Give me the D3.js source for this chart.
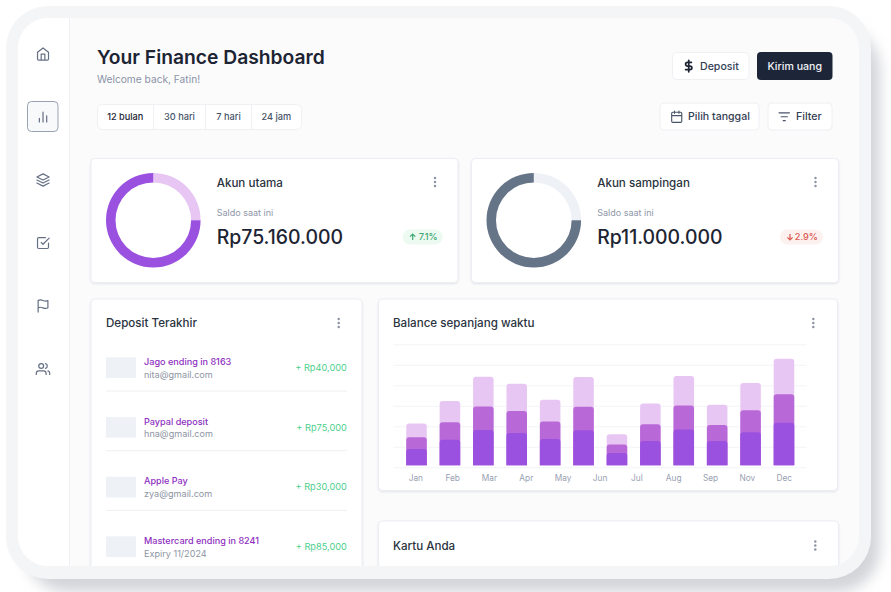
<!DOCTYPE html>
<html><head><meta charset="utf-8">
<style>html,body{margin:0;padding:0;background:#fff;overflow:hidden}svg{display:block}text{font-family:Inter,"Noto Sans",sans-serif}</style>
<script src="https://cdn.jsdelivr.net/npm/d3@7/dist/d3.min.js"></script>
</head><body><script>
// ---- data ----
const barMonths = ["Jan","Feb","Mar","Apr","May","Jun","Jul","Aug","Sep","Oct","Nov","Dec"];
const tickLabels = ["Jan","Feb","Mar","Apr","May","Jun","Jul","Aug","Sep","Nov","Dec"];
const seriesDark = [8.0,12.5,17.2,15.8,12.8,17.1,6.0,11.9,17.4,11.9,16.1,20.8];
const seriesMid = [5.7,8.5,11.5,10.7,8.5,11.5,4.2,8.1,11.7,7.8,10.7,13.8];
const seriesLight = [6.7,10.4,14.5,13.3,10.7,14.5,5.0,10.1,14.5,9.8,13.3,17.4];
const gridValues = [0,10,20,30,40,50,60];
const donutMain = [25,75];
const donutSide = [25,75];
const depositTitles = ["Jago ending in 8163","Paypal deposit","Apple Pay","Mastercard ending in 8241"];
const depositSubs = ["nita@gmail.com","hna@gmail.com","zya@gmail.com","Expiry 11/2024"];
const depositAmounts = ["+ Rp40,000","+ Rp75,000","+ Rp30,000","+ Rp85,000"];
const tabLabels = ["12 bulan","30 hari","7 hari","24 jam"];

// ---- helpers ----
const W=891,H=592;
const svg=d3.select("body").append("svg").attr("width",W).attr("height",H);
const defs=svg.append("defs");
const f=defs.append("filter").attr("id","sh").attr("x","-10%").attr("y","-10%").attr("width","125%").attr("height","125%");
f.append("feGaussianBlur").attr("stdDeviation",7);
const f2=defs.append("filter").attr("id","cs").attr("x","-5%").attr("y","-5%").attr("width","110%").attr("height","115%");
f2.append("feDropShadow").attr("dx",0).attr("dy",1).attr("stdDeviation",1).attr("flood-color","#98a2b3").attr("flood-opacity",.28);
defs.append("clipPath").attr("id","inner").append("rect").attr("x",18).attr("y",18).attr("width",841).attr("height",548).attr("rx",30);

const rect=(p,x,y,w,h,o={})=>p.append("rect").attr("x",x).attr("y",y).attr("width",w).attr("height",h).attr("rx",o.rx||0)
  .attr("fill",o.fill||"none").attr("stroke",o.stroke||"none").attr("stroke-width",o.sw||1).attr("filter",o.filter||null);
const text=(p,s,x,y,size,weight,fill,anchor)=>p.append("text").attr("x",x).attr("y",y).attr("font-size",size).attr("font-weight",weight)
  .attr("fill",fill).attr("text-anchor",anchor||"start").text(s);
const icon=(p,x,y,s,d,col,sw)=>p.append("g").attr("transform",`translate(${x},${y}) scale(${s})`).append("path").attr("d",d)
  .attr("fill","none").attr("stroke",col).attr("stroke-width",sw||2).attr("stroke-linecap","round").attr("stroke-linejoin","round");
const kebab=(p,x,y)=>[-4,0,4].forEach(d=>p.append("circle").attr("cx",x).attr("cy",y+d).attr("r",1.25).attr("fill","#8d95a5"));
const card=(p,x,y,w,h)=>rect(p,x,y,w,h,{rx:4,fill:"#fff",stroke:"#eceef3",filter:"url(#cs)"});
const btn=(p,x,y,w,h,fill,stroke)=>rect(p,x+.5,y+.5,w-1,h-1,{rx:4,fill:fill||"#fff",stroke:stroke||"#eef0f4"});

// ---- device frame ----
rect(svg,24,26,856,566,{rx:44,fill:"#d2d4d9",filter:"url(#sh)"});
rect(svg,6,6,865,573,{rx:42,fill:"#f4f5f6"});
rect(svg,18,18,841,548,{rx:30,fill:"#fbfbfc"});
const app=svg.append("g").attr("clip-path","url(#inner)");

// sidebar
rect(app,18,18,51.5,548,{fill:"#fff"});
app.append("line").attr("x1",69.5).attr("x2",69.5).attr("y1",18).attr("y2",566).attr("stroke","#eef0f4");
rect(app,27.5,101.5,30.5,30,{rx:4,fill:"#f8f9fb",stroke:"#98a2b3"});
const iconCol="#667085";
const sb=[
 ["M3 9l9-7 9 7v11a2 2 0 0 1-2 2H5a2 2 0 0 1-2-2z M9 22V12h6v10",54],
 ["M18 20V10 M12 20V4 M6 20v-6",117],
 ["M12 2L2 7l10 5 10-5-10-5z M2 17l10 5 10-5 M2 12l10 5 10-5",180],
 ["M9 11l3 3L22 4 M21 12v7a2 2 0 0 1-2 2H5a2 2 0 0 1-2-2V5a2 2 0 0 1 2-2h11",243],
 ["M4 15s1-1 4-1 5 2 8 2 4-1 4-1V3s-1 1-4 1-5-2-8-2-4 1-4 1z M4 22v-7",306],
 ["M17 21v-2a4 4 0 0 0-4-4H5a4 4 0 0 0-4 4v2 M9 3a4 4 0 1 0 0 8 4 4 0 0 0 0-8z M23 21v-2a4 4 0 0 0-3-3.87 M16 3.13a4 4 0 0 1 0 7.75",369]
];
sb.forEach(([d,y])=>icon(app,35.7,y-7.3,.61,d,iconCol,2));

// header
text(app,"Your Finance Dashboard",97,64,19.25,600,"#1d2433");
text(app,"Welcome back, Fatin!",97,83,10.2,400,"#8a93a6");
rect(app,97.5,104.5,204,25,{rx:5,fill:"#fff",stroke:"#eef0f4"});
const tabBounds=[97,153.5,205.5,251.5,301];
tabLabels.forEach((t,i)=>{
  if(i>0) app.append("line").attr("x1",tabBounds[i]).attr("x2",tabBounds[i]).attr("y1",104.5).attr("y2",129.5).attr("stroke","#eef0f4");
  text(app,t,(tabBounds[i]+tabBounds[i+1])/2,120.3,9.2,500,i==0?"#1d2433":"#475467","middle");
});
btn(app,672,52,77.5,28);
icon(app,682.5,59.8,.52,"M12 1v22 M17 5H9.5a3.5 3.5 0 0 0 0 7h5a3.5 3.5 0 0 1 0 7H6","#1d2433",3.4);
text(app,"Deposit",700,70,10.6,500,"#344054");
rect(app,757,52,75.5,28,{rx:4,fill:"#1d2639"});
text(app,"Kirim uang",794.7,70,10.6,500,"#f2f4f7","middle");
btn(app,659.5,102.5,100,28);
icon(app,670,110,.56,"M5 4h14a2 2 0 0 1 2 2v14a2 2 0 0 1-2 2H5a2 2 0 0 1-2-2V6a2 2 0 0 1 2-2z M16 2v4 M8 2v4 M3 10h18","#475467",2);
text(app,"Pilih tanggal",688,120.3,10.6,500,"#344054");
btn(app,767.5,102.5,65,28);
icon(app,778,110.5,.52,"M2 4.5h20 M6 12h12 M10 19.5h4","#475467",2.2);
text(app,"Filter",796,120.3,10.6,500,"#344054");

// account cards
function account(x,cx,data,colMain,colLight,title,value,badgeX,badgeW,badgeFill,badgeCol,badgeText,up){
  card(app,x,158.5,367,124);
  const pie=d3.pie().sort(null).value(d=>d);
  const arc=d3.arc().innerRadius(37.8).outerRadius(47.3);
  app.append("g").attr("transform",`translate(${cx},220.2)`).selectAll("path").data(pie(data)).join("path")
    .attr("d",arc).attr("fill",(d,i)=>i==0?colLight:colMain);
  const tx=cx+63.4;
  text(app,title,tx,187,11.6,500,"#2b3340");
  text(app,"Saldo saat ini",tx,216,9,400,"#8f97a8");
  text(app,value,tx,244,19.4,500,"#1d2433");
  kebab(app,x+344,182);
  rect(app,badgeX,229.5,badgeW,15,{rx:7.5,fill:badgeFill});
  const ax=badgeX+10,ay=237;
  app.append("path").attr("d",up?`M${ax} ${ay+3}V${ay-3} M${ax-2.6} ${ay-.4}L${ax} ${ay-3}L${ax+2.6} ${ay-.4}`:`M${ax} ${ay-3}V${ay+3} M${ax-2.6} ${ay+.4}L${ax} ${ay+3}L${ax+2.6} ${ay+.4}`)
    .attr("fill","none").attr("stroke",badgeCol).attr("stroke-width",1.2);
  text(app,badgeText,badgeX+badgeW-5,240.3,9.2,500,badgeCol,"end");
}
account(91,153.3,donutMain,"#9b51e0","#e8c6f3","Akun utama","Rp75.160.000",402.7,40,"#ecfaf1","#3fa873","7.1%",true);
account(471.5,533.8,donutSide,"#667488","#eef1f6","Akun sampingan","Rp11.000.000",780,43,"#fdf1f0","#dc5b52","2.9%",false);

// deposits
card(app,91,299,271,300);
text(app,"Deposit Terakhir",106,327,11.6,500,"#2b3340");
kebab(app,338.7,323);
depositTitles.forEach((t,i)=>{
  const dy=i*59.7;
  rect(app,106,357.3+dy,30,20.7,{fill:"#eef1f6"});
  text(app,t,144,365+dy,9.1,500,"#8e2fc0");
  text(app,depositSubs[i],144,377.7+dy,9.1,400,"#8e95a3");
  text(app,depositAmounts[i],346.8,371+dy,9.2,400,"#4ccf8c","end");
  if(i<3) app.append("line").attr("x1",106).attr("x2",347).attr("y1",391+dy).attr("y2",391+dy).attr("stroke","#eef0f4");
});

// balance chart card
card(app,378.5,299,459,191.5);
text(app,"Balance sepanjang waktu",393,327,11.6,500,"#2b3340");
kebab(app,813.3,323);
const gridY=d3.scaleLinear().domain([0,60]).range([467.3,344.3]);
const barY=d3.scaleLinear().domain([0,59]).range([465.3,344.3]);
const barX=d3.scaleBand().domain(barMonths).range([399.9,800.6]).paddingInner(.385).paddingOuter(.19);
const labelX=d3.scalePoint().domain(tickLabels).range([415.3,783.7]);
const chart=app.append("g");
chart.append("g").attr("transform","translate(393.3,0)")
  .call(d3.axisLeft(gridY).tickValues(gridValues).tickSize(-413.4).tickFormat(""))
  .call(g=>g.select(".domain").remove())
  .call(g=>g.selectAll("line").attr("stroke","#f3f4f8"));
const stack=d3.stack().keys([0,1,2]).value((d,k)=>d[k]);
const rows=barMonths.map((m,i)=>[seriesDark[i],seriesMid[i],seriesLight[i]]);
const cols=["#9b51e0","#b968d8","#e8c6f3"];
const layers=stack(rows);
[2,1,0].forEach(k=>{
  chart.append("g").selectAll("path").data(layers[k]).join("path")
   .attr("fill",cols[k])
   .attr("d",(d,i)=>{
     const x=barX(barMonths[i]),w=barX.bandwidth(),t=barY(d[1]),b=barY(0),r=3;
     return `M${x} ${b}V${t+r}Q${x} ${t} ${x+r} ${t}H${x+w-r}Q${x+w} ${t} ${x+w} ${t+r}V${b}Z`;
   });
});
chart.append("g").attr("transform","translate(0,467.3)")
  .call(d3.axisBottom(labelX).tickSize(0).tickPadding(8))
  .call(g=>g.select(".domain").remove())
  .call(g=>g.selectAll("text").attr("font-size",8.3).attr("fill","#98a1b2").attr("font-family","Inter"));

// cards section
card(app,378.5,521,460,80);
text(app,"Kartu Anda",393,550,11.6,500,"#2b3340");
kebab(app,815.3,545.5);
</script></body></html>
